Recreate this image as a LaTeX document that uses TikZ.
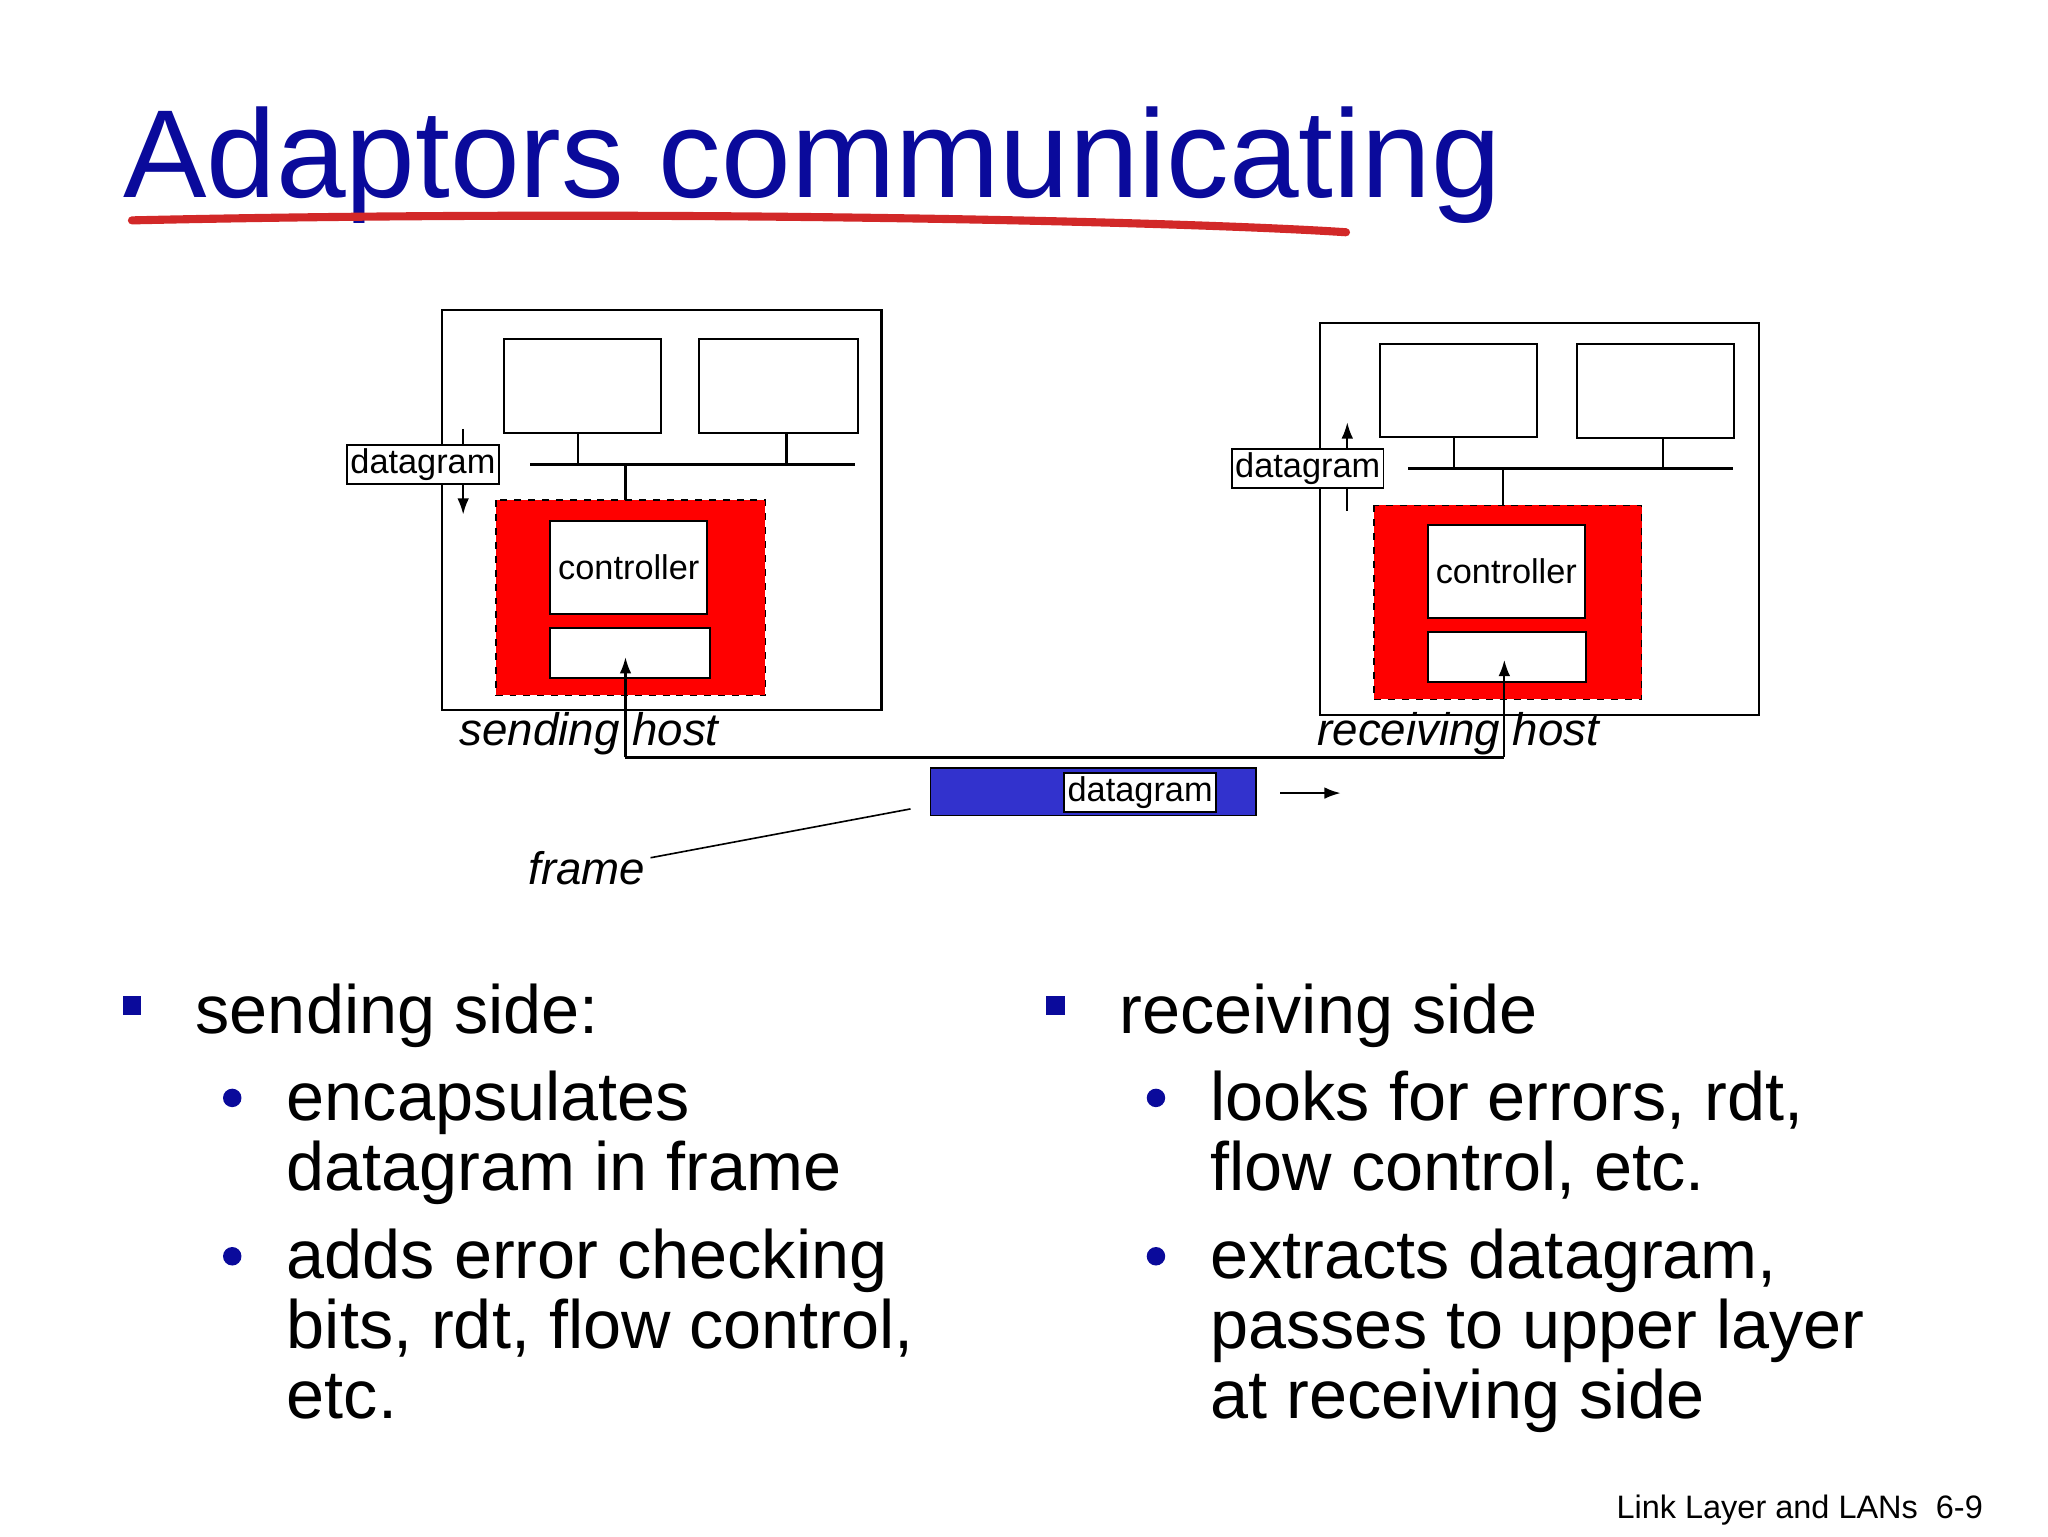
\documentclass[tikz,border=0pt]{standalone}
\usepackage{fontspec}
\setmainfont{Liberation Sans}
\usetikzlibrary{arrows.meta}
\definecolor{ttl}{RGB}{10,10,155}
\definecolor{frm}{RGB}{50,50,205}
\definecolor{ul}{RGB}{210,40,40}
\begin{document}
\begin{tikzpicture}[x=0.02cm,y=-0.02cm,
  box/.style={draw,line width=0.9pt},
  lblbox/.style={draw,fill=white,line width=0.7pt,font=\fontsize{14.8}{16}\selectfont,inner sep=1.5pt,minimum height=0.52cm},
  hostlbl/.style={font=\fontsize{19.7}{22}\selectfont\itshape,inner sep=0pt,anchor=base west},
  big/.style={font=\fontsize{29.5}{32}\selectfont,inner sep=0pt,anchor=base west},
  arr/.style={-{Latex[length=7pt,width=5pt]},line width=0.9pt}]
\useasboundingbox (0,0) rectangle (1552,1164);
\fill[white] (0,0) rectangle (1552,1164);
\node[anchor=base west,inner sep=0pt,text=ttl,font=\fontsize{54}{60}\selectfont] (title) at (93,150) {Adaptors communicating};
\draw[ul,line width=3.5pt,line cap=round] (100,167) .. controls (500,158) and (900,168) .. (1020,176);
% sending host
\draw[box] (335,235) rectangle (668,538);
\draw[box] (382,257) rectangle (501,328);
\draw[box] (530,257) rectangle (650,328);
\draw[line width=0.9pt] (402,352) -- (648,352) (438,328)--(438,352) (596,328)--(596,352) (474,352)--(474,395);
\fill[red] (376,379) rectangle (580,527);
\draw[dashed,line width=0.7pt] (376,379) rectangle (580,527);
\node[box,fill=white,minimum width=2.38cm,minimum height=1.4cm,font=\fontsize{14.8}{16}\selectfont] (c1) at (476.5,430) {controller};
\draw[box,fill=white] (417,476) rectangle (538,514);
\draw[arr] (351,325) -- (351,390);
\node[lblbox] (d1) at (320.5,352) {datagram};
\node[hostlbl] (sh) at (348,565) {sending host};
% receiving host
\draw[box] (1000,245) rectangle (1333,542);
\draw[box] (1046,261) rectangle (1165,331);
\draw[box] (1195,261) rectangle (1314,332);
\draw[line width=0.9pt] (1067,355) -- (1313,355) (1102,331)--(1102,355) (1260,332)--(1260,355) (1139,355)--(1139,398);
\fill[red] (1041,383) rectangle (1244,530);
\draw[dashed,line width=0.7pt] (1041,383) rectangle (1244,530);
\node[box,fill=white,minimum width=2.38cm,minimum height=1.4cm,font=\fontsize{14.8}{16}\selectfont] (c2) at (1141.5,433) {controller};
\draw[box,fill=white] (1082,479) rectangle (1202,517);
\draw[arr] (1021,387) -- (1021,320);
\node[lblbox] (d2) at (991,355) {datagram};
\node[hostlbl] (rh) at (998,565) {receiving host};
% link
\coordinate (a) at (474,498); \coordinate (b) at (1140,500);
\draw[line width=0.9pt] (474,574) -- (1140,574);
\draw[arr] (474,574) -- (a);
\draw[arr] (1140,574) -- (b);
\fill[frm] (705,582) rectangle (952,618);
\draw[line width=0.7pt] (705,582) rectangle (952,618);
\node[lblbox,minimum height=0.54cm] (d3) at (864,600.5) {datagram};
\draw[arr] (970,601) -- (1016,601);
\node[hostlbl] (fr) at (400,670) {frame};
\draw[line width=0.7pt] (493,650) -- (690,613);
% bullets
\fill[ttl] (93,755) rectangle (107,769);
\fill[ttl] (793,755) rectangle (807,769);
\foreach \x/\y in {176/832,176/952,876/832,876/952}
  \fill[ttl] (\x,\y) circle (7);
\node[big] at (148,783) {sending side:};
\node[big] at (217,849) {encapsulates};
\node[big] at (217,902) {datagram in frame};
\node[big] at (217,969) {adds error checking};
\node[big] at (217,1022) {bits, rdt, flow control,};
\node[big] at (217,1075) {etc.};
\node[big] at (848,783) {receiving side};
\node[big] at (917,849) {looks for errors, rdt,};
\node[big] at (917,902) {flow control, etc.};
\node[big] at (917,969) {extracts datagram,};
\node[big] at (917,1022) {passes to upper layer};
\node[big] at (917,1075) {at receiving side};
\node[anchor=base east,inner sep=0pt,font=\fontsize{14}{16}\selectfont] at (1503,1151) {Link Layer and LANs\ \ 6-9};
\end{tikzpicture}
\end{document}
